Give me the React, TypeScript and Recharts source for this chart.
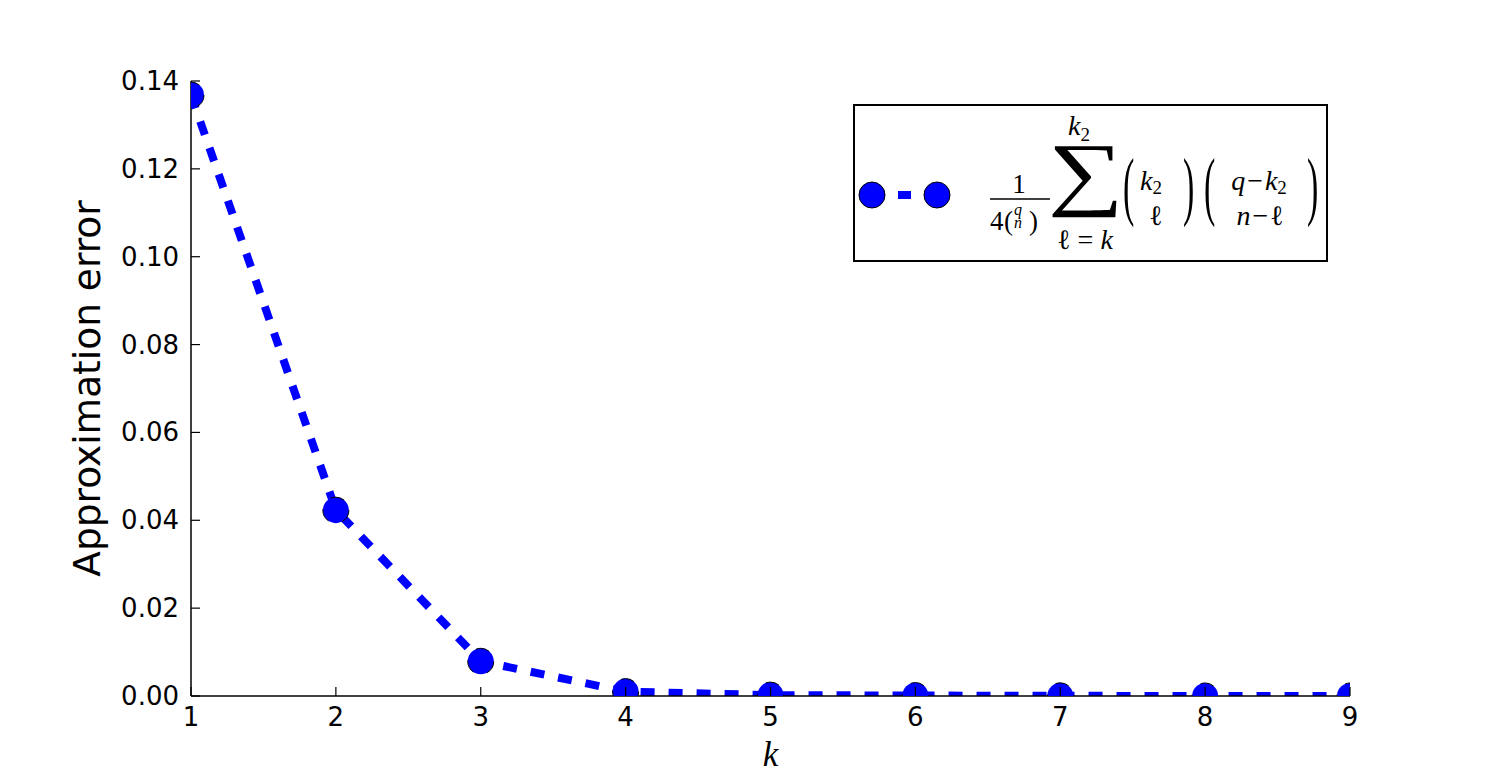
import React from 'react';
import { LineChart, Line, XAxis, YAxis, Legend } from 'recharts';

const kValues = [1, 2, 3, 4, 5, 6, 7, 8, 9];
const errorValues = [0.1368, 0.0423, 0.0079, 0.001, 0.0002, 0.0001, 0.00004, 0.00001, 0.0];
const xTicks = [1, 2, 3, 4, 5, 6, 7, 8, 9];
const yTicks = [0, 0.02, 0.04, 0.06, 0.08, 0.1, 0.12, 0.14];
const yLabel = 'Approximation error';
const xLabel = 'k';

const data = kValues.map((k, i) => ({ k, err: errorValues[i] }));

const SANS = "'DejaVu Sans', sans-serif";
const SERIF = "'Liberation Serif', 'DejaVu Serif', serif";
const BLUE = '#0000ff';

const YTick = (props: any) => {
  const { x, y, payload } = props;
  return (
    <g>
      <line x1={x + 12} x2={x + 21} y1={y} y2={y} stroke="#000" strokeWidth={1.2} />
      <text x={x} y={y} textAnchor="end" dominantBaseline="central" fontSize={26} fontFamily={SANS} fill="#000">
        {Number(payload.value).toFixed(2)}
      </text>
    </g>
  );
};

const XTick = (props: any) => {
  const { x, y, payload } = props;
  return (
    <g>
      <line x1={x} x2={x} y1={y - 21} y2={y - 30} stroke="#000" strokeWidth={1.2} />
      <text x={x} y={y} textAnchor="middle" dominantBaseline="central" fontSize={26} fontFamily={SANS} fill="#000">
        {payload.value}
      </text>
    </g>
  );
};

const BigParen = ({ x, cy, ch }: { x: number; cy: number; ch: string }) => (
  <text
    transform={`translate(${x},${cy}) scale(1,2.25)`}
    x={0}
    y={8}
    fontSize={34}
    fontFamily={SERIF}
    fill="#000"
  >
    {ch}
  </text>
);

const LegendBox = () => (
  <svg width={475} height={158} style={{ display: 'block' }}>
    <rect x={1} y={1} width={473} height={156} fill="#fff" stroke="#000" strokeWidth={2} />
    <line x1={19} x2={84} y1={91} y2={91} stroke={BLUE} strokeWidth={8} strokeDasharray="13 13" />
    <circle cx={19} cy={91} r={13} fill={BLUE} stroke="#000" strokeWidth={1} />
    <circle cx={84} cy={91} r={13} fill={BLUE} stroke="#000" strokeWidth={1} />
    <g fontFamily={SERIF} fill="#000">
      <text x={166} y={89} textAnchor="middle" fontSize={27}>1</text>
      <line x1={137} x2={197} y1={95} y2={95} stroke="#000" strokeWidth={1.4} />
      <text x={137} y={126} fontSize={27}>4</text>
      <text x={151} y={126} fontSize={27}>(</text>
      <text x={165} y={111} textAnchor="middle" fontSize={16} fontStyle="italic">q</text>
      <text x={165} y={124} textAnchor="middle" fontSize={16} fontStyle="italic">n</text>
      <text x={176} y={126} fontSize={27}>)</text>
      <text
        transform="translate(232.5,78.5) scale(1.3,1)"
        x={0}
        y={17}
        textAnchor="middle"
        fontSize={82}
      >
        ∑
      </text>
      <text x={215} y={31} fontSize={28}>
        <tspan fontStyle="italic">k</tspan>
        <tspan fontSize={19} dy={6}>2</tspan>
      </text>
      <text x={232} y={145} textAnchor="middle" fontSize={28}>
        <tspan>ℓ</tspan>
        <tspan dx={7}>=</tspan>
        <tspan dx={7} fontStyle="italic">k</tspan>
      </text>
      <BigParen x={270} cy={89} ch="(" />
      <BigParen x={330} cy={89} ch=")" />
      <text x={287} y={86} fontSize={28}>
        <tspan fontStyle="italic">k</tspan>
        <tspan fontSize={19} dy={4}>2</tspan>
      </text>
      <text x={303} y={121} textAnchor="middle" fontSize={28}>ℓ</text>
      <BigParen x={351} cy={89} ch="(" />
      <BigParen x={454} cy={89} ch=")" />
      <text x={406} y={86} textAnchor="middle" fontSize={28}>
        <tspan fontStyle="italic">q</tspan>
        <tspan dx={2}>−</tspan>
        <tspan dx={2} fontStyle="italic">k</tspan>
        <tspan fontSize={19} dy={4}>2</tspan>
      </text>
      <text x={407} y={121} textAnchor="middle" fontSize={28}>
        <tspan fontStyle="italic">n</tspan>
        <tspan dx={2}>−</tspan>
        <tspan dx={2}>ℓ</tspan>
      </text>
    </g>
  </svg>
);

export default function App() {
  return (
    <div style={{ width: 1494, height: 768, background: '#fff' }}>
      <LineChart
        width={1494}
        height={768}
        data={data}
        margin={{ top: 73, right: 152, bottom: 20, left: 63 }}
      >
        <XAxis
          dataKey="k"
          type="number"
          domain={[1, 9]}
          ticks={xTicks}
          allowDataOverflow
          height={60}
          tickSize={0}
          tickMargin={21}
          tickLine={false}
          tick={<XTick />}
          axisLine={{ stroke: '#000', strokeWidth: 1.5 }}
          label={{
            content: (p: any) => {
              const vb = p.viewBox || { x: 183, y: 688, width: 1159 };
              return (
                <text
                  x={vb.x + vb.width / 2}
                  y={vb.y + 70}
                  textAnchor="middle"
                  fontSize={35}
                  fontStyle="italic"
                  fontFamily={SERIF}
                  fill="#000"
                >
                  {xLabel}
                </text>
              );
            },
          }}
        />
        <YAxis
          type="number"
          domain={[0, 0.14]}
          ticks={yTicks}
          allowDataOverflow
          width={120}
          tickSize={0}
          tickMargin={12}
          tickLine={false}
          tick={<YTick />}
          axisLine={{ stroke: '#000', strokeWidth: 1.5 }}
          label={{
            content: (p: any) => {
              const vb = p.viewBox || { x: 63, y: 73, width: 120, height: 615 };
              const cx = vb.x + 29;
              const cy = vb.y + vb.height / 2;
              return (
                <text
                  x={cx}
                  y={cy}
                  transform={`rotate(-90, ${cx}, ${cy})`}
                  textAnchor="middle"
                  fontSize={37.5}
                  fontFamily={SANS}
                  fill="#000"
                >
                  {yLabel}
                </text>
              );
            },
          }}
        />
        <Legend
          layout="vertical"
          align="center"
          verticalAlign="middle"
          content={() => <LegendBox />}
          wrapperStyle={{ position: 'absolute', left: 845, top: 96, width: 475, height: 158 }}
        />
        <Line
          type="linear"
          dataKey="err"
          stroke={BLUE}
          strokeWidth={8}
          strokeDasharray="14 14"
          dot={{ r: 13, fill: BLUE, stroke: '#000', strokeWidth: 1, clipDot: true }}
          activeDot={false}
          isAnimationActive={false}
        />
      </LineChart>
    </div>
  );
}
